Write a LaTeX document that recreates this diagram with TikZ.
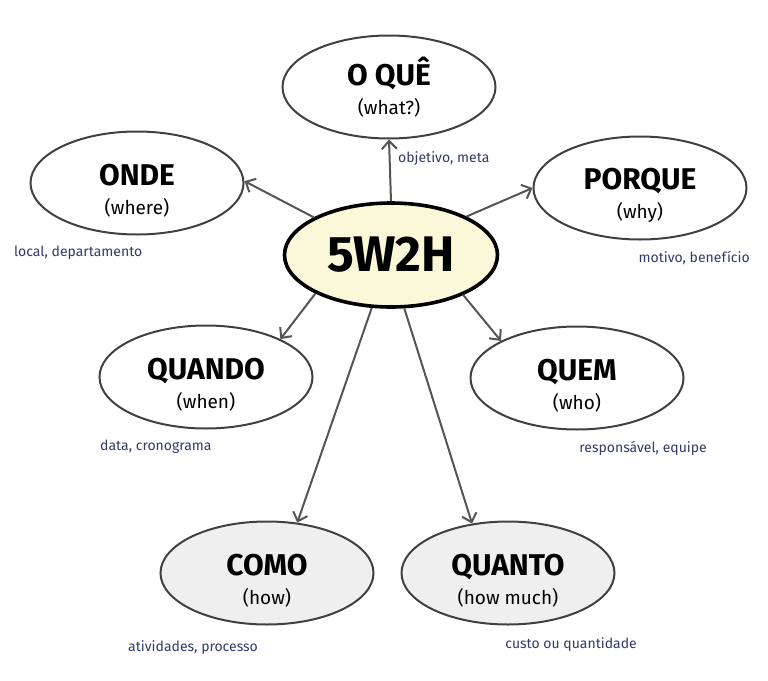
\documentclass[tikz,border=0pt]{standalone}
\usepackage{fontspec}
\setmainfont{Fira Sans}
\usepackage{xcolor}
\usetikzlibrary{arrows.meta, shapes.geometric}

\definecolor{coreyellow}{HTML}{FAF8D8}
\definecolor{softgray}{HTML}{EFEFEF}
\definecolor{notenavy}{HTML}{2E3B6B}
\definecolor{arrowgray}{HTML}{555555}

\begin{document}
\begin{tikzpicture}[
      x=1pt, y=-1pt,
      bubble/.style={ellipse, draw=black!75, line width=2pt, fill=white,
        minimum width=213pt, minimum height=103pt, inner sep=0pt,
        align=center, font=\fontsize{19}{29}\selectfont},
      shaded/.style={bubble, fill=softgray},
      core/.style={ellipse, draw=black, line width=3.6pt, fill=coreyellow,
        minimum width=213pt, minimum height=104pt, inner sep=0pt,
        font=\fontsize{50}{50}\selectfont\bfseries},
      topic/.style={font=\fontsize{30}{30}\selectfont\bfseries},
      note/.style={text=notenavy, font=\fontsize{14}{16}\selectfont, inner sep=0pt},
      link/.style={draw=arrowgray, line width=2pt,
        -{Straight Barb[length=8pt,width=15pt,line width=2pt]}}
    ]
    \useasboundingbox (0,0) rectangle (768,680);

    \node[core] (c) at (391,255) {5W2H};

    \node[bubble] (oque)   at (389,87)  {{\fontsize{30}{30}\selectfont\bfseries O QUÊ}\\(what?)};
    \node[bubble] (onde)   at (137,183) {{\fontsize{30}{30}\selectfont\bfseries\rule{0pt}{36pt}ONDE}\\(where)};
    \node[bubble] (porque) at (640,188) {{\fontsize{30}{30}\selectfont\bfseries\rule{0pt}{36pt}PORQUE}\\(why)};
    \node[bubble] (quando) at (206,377) {{\fontsize{30}{30}\selectfont\bfseries\rule{0pt}{36pt}QUANDO}\\(when)};
    \node[bubble] (quem)   at (577,378) {{\fontsize{30}{30}\selectfont\bfseries\rule{0pt}{36pt}QUEM}\\(who)};
    \node[shaded] (como)   at (267,573) {{\fontsize{30}{30}\selectfont\bfseries\rule{0pt}{36pt}COMO}\\(how)};
    \node[shaded] (quanto) at (508,573) {{\fontsize{30}{30}\selectfont\bfseries\rule{0pt}{36pt}QUANTO}\\(how much)};

    % notes
    \node[note, anchor=west] (noque)   at (398,159) {objetivo, meta};
    \node[note, anchor=west] (nonde)   at (14,253)  {local, departamento};
    \node[note, anchor=east] (nporque) at (750,258) {motivo, benefício};
    \node[note, anchor=west] (nquando) at (100,447) {data, cronograma};
    \node[note, anchor=east] (nquem)   at (707,448) {responsável, equipe};
    \node[note, anchor=west] (ncomo)   at (128,648) {atividades, processo};
    \node[note, anchor=east] (nquanto) at (637,645) {custo ou quantidade};

    % arrows
    \draw[link] (c.90)  -- (oque.270);
    \draw[link] (c.154) -- (onde.1);
    \draw[link] (c.27)  -- (porque.180);
    \draw[link] (c.207) -- (quando.27);
    \draw[link] (c.331) -- (quem.154);
    \draw[link] (c.250) -- (como.59);
    \draw[link] (c.284) -- (quanto.126);
\end{tikzpicture}
\end{document}
